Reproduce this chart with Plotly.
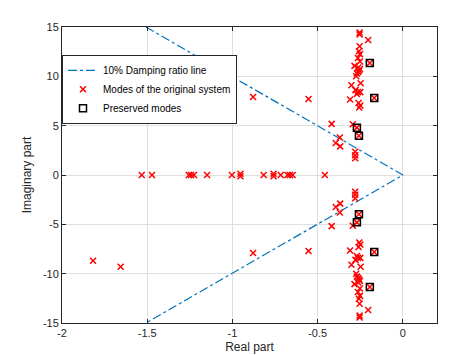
import numpy as np
import plotly.graph_objects as go

# ---------------- data ----------------
damping_ratio = 0.10
imag_limit = 15.0

# Modes of the original system (real, imag)
modes_real = [
    # upper half-plane
    -0.254, -0.254, -0.204, -0.254, -0.258, -0.252, -0.264, -0.252, -0.284, -0.262,
    -0.252, -0.256, -0.262, -0.270, -0.274, -0.302, -0.248, -0.278, -0.264, -0.250,
    -0.270, -0.310, -0.260, -0.250, -0.256, -0.554, -0.879, -1.818, -1.656, -0.418,
    -0.294, -0.370, -0.394, -0.368, -0.280, -0.280, -0.280,
    -0.194, -0.168, -0.270, -0.258,
    # lower half-plane
    -0.254, -0.254, -0.204, -0.254, -0.258, -0.252, -0.264, -0.252, -0.284, -0.262,
    -0.252, -0.256, -0.262, -0.270, -0.274, -0.302, -0.248, -0.278, -0.264, -0.250,
    -0.270, -0.310, -0.260, -0.250, -0.256, -0.554, -0.879, -1.818, -1.656, -0.418,
    -0.294, -0.370, -0.394, -0.368, -0.280, -0.280, -0.280,
    -0.194, -0.168, -0.270, -0.258,
    # real axis
    -1.532, -1.472, -1.256, -1.243, -1.226, -1.149, -1.003, -0.953, -0.953, -0.817,
    -0.759, -0.759, -0.717, -0.677, -0.663, -0.647, -0.458,
]
modes_imag = [
    14.45, 14.25, 13.68, 13.05, 12.55, 12.25, 11.85, 11.50, 11.06, 10.90,
    10.75, 10.60, 10.45, 10.30, 10.00, 9.10, 9.30, 8.60, 8.40, 8.40,
    8.20, 7.65, 7.30, 7.05, 6.85, 7.70, 7.90, 8.70, 9.30, 5.18,
    5.15, 3.80, 3.25, 2.90, 2.35, 2.00, 1.70,
    11.35, 7.80, 4.80, 3.97,
    -14.45, -14.25, -13.68, -13.05, -12.55, -12.25, -11.85, -11.50, -11.06, -10.90,
    -10.75, -10.60, -10.45, -10.30, -10.00, -9.10, -9.30, -8.60, -8.40, -8.40,
    -8.20, -7.65, -7.30, -7.05, -6.85, -7.70, -7.90, -8.70, -9.30, -5.18,
    -5.15, -3.80, -3.25, -2.90, -2.35, -2.00, -1.70,
    -11.35, -7.80, -4.80, -3.97,
    0.0, 0.0, 0.0, 0.0, 0.0, 0.0, 0.0, 0.12, -0.12, 0.0,
    0.12, -0.12, 0.0, 0.0, 0.0, 0.0, 0.0,
]

# Preserved modes
preserved_real = [-0.194, -0.168, -0.270, -0.258, -0.194, -0.168, -0.270, -0.258]
preserved_imag = [11.35, 7.80, 4.80, 3.97, -11.35, -7.80, -4.80, -3.97]

x_ticks = [-2, -1.5, -1, -0.5, 0]
x_tick_labels = ["-2", "-1.5", "-1", "-0.5", "0"]
y_ticks = [-15, -10, -5, 0, 5, 10, 15]
y_tick_labels = ["-15", "-10", "-5", "0", "5", "10", "15"]

# 10% damping ratio line: Re = -Im * zeta / sqrt(1 - zeta^2)
slope = np.sqrt(1 - damping_ratio**2) / damping_ratio
damp_real = [-imag_limit / slope, 0.0, -imag_limit / slope]
damp_imag = [imag_limit, 0.0, -imag_limit]

FONT = "Liberation Sans, Arial, sans-serif"
TXT = "#262626"

fig = go.Figure()
fig.add_trace(go.Scatter(
    x=damp_real, y=damp_imag, mode="lines",
    line=dict(color="#0072BD", width=1.2, dash="dashdot"),
    name="10% Damping ratio line",
))
fig.add_trace(go.Scatter(
    x=modes_real, y=modes_imag, mode="markers",
    marker=dict(symbol="x-thin-open", size=6, color="#FF0000",
                line=dict(color="#FF0000", width=1.5)),
    name="Modes of the original system",
))
fig.add_trace(go.Scatter(
    x=preserved_real, y=preserved_imag, mode="markers",
    marker=dict(symbol="square-open", size=7, color="#000000",
                line=dict(color="#1a1a1a", width=1.5)),
    name="Preserved modes",
))

axis_common = dict(
    showgrid=True, gridcolor="#DFDFDF", gridwidth=1,
    zeroline=False, showline=True, linecolor=TXT, linewidth=1,
    mirror="ticks", ticks="inside", ticklen=4, tickcolor=TXT,
    tickfont=dict(family=FONT, size=11, color=TXT),
    automargin=False,
)

# page body adds an 8px offset, so the figure is sized to fit the window
fig.update_layout(
    width=466, height=347,
    margin=dict(l=54, r=37, t=19, b=32),
    paper_bgcolor="white", plot_bgcolor="white",
    font=dict(family=FONT, size=12, color=TXT),
    showlegend=True,
    legend=dict(
        x=0.0, y=0.906, xanchor="left", yanchor="top",
        bgcolor="white", bordercolor="#262626", borderwidth=1,
        font=dict(family=FONT, size=10, color="#000000"),
        tracegroupgap=0, itemwidth=30,
    ),
    xaxis=dict(range=[-2, 0.2], tickvals=x_ticks, ticktext=x_tick_labels,
               title=dict(text="Real part", standoff=4,
                          font=dict(family=FONT, size=12, color=TXT)),
               **axis_common),
    yaxis=dict(range=[-15, 15], tickvals=y_ticks, ticktext=y_tick_labels,
               title=dict(text="Imaginary part", standoff=8,
                          font=dict(family=FONT, size=12, color=TXT)),
               **axis_common),
)

fig.write_html("out.html")
